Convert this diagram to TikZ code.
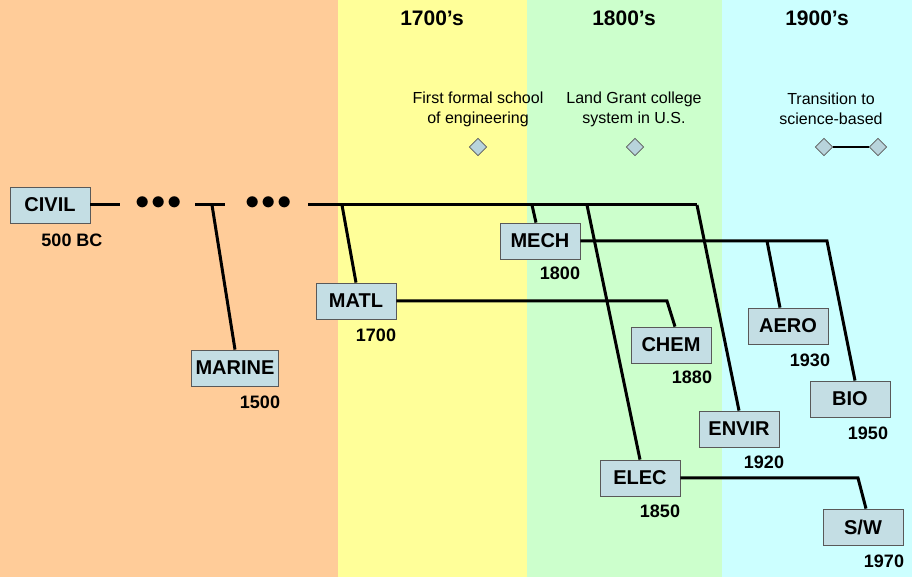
\documentclass[tikz,border=0pt]{standalone}
\usepackage{fontspec}
\setmainfont{Liberation Sans}
\usetikzlibrary{shapes.geometric}
\definecolor{bgorange}{HTML}{FFCC99}
\definecolor{bgyellow}{HTML}{FFFF99}
\definecolor{bggreen}{HTML}{CCFFCC}
\definecolor{bgcyan}{HTML}{CCFFFF}
\definecolor{boxfill}{HTML}{C4DEE4}
\definecolor{marker}{HTML}{B8D4DC}
\tikzset{
  field/.style={draw=gray!70!black,fill=boxfill,minimum width=40pt,minimum height=18pt,
    inner sep=2pt,font=\bfseries\fontsize{10}{12}\selectfont},
  year/.style={font=\bfseries\fontsize{9}{11}\selectfont},
  era/.style={font=\bfseries\fontsize{10.5}{12}\selectfont},
  note/.style={font=\fontsize{8}{10}\selectfont,align=center},
  milestone/.style={diamond,draw=gray!70!black,fill=marker,inner sep=2.2pt},
  link/.style={line width=1.5pt},
  dots/.style={font=\bfseries\fontsize{14}{14}\selectfont}
}
\begin{document}
\begin{tikzpicture}[x=0.5pt,y=-0.5pt]
  \useasboundingbox (0,0) rectangle (912,577);
  % eras
  \fill[bgorange] (0,0) rectangle (338,577);
  \fill[bgyellow] (338,0) rectangle (527,577);
  \fill[bggreen] (527,0) rectangle (722,577);
  \fill[bgcyan] (722,0) rectangle (912,577);
  \node[era] at (432,18) {1700's};
  \node[era] at (624,18) {1800's};
  \node[era] at (817,18) {1900's};

  % milestones
  \node[note] at (478,109) {First formal school\\of engineering};
  \node[milestone] (school) at (478,147) {};
  \node[note] at (634,109) {Land Grant college\\system in U.S.};
  \node[milestone] (grant) at (635,147) {};
  \node[note] at (831,109) {Transition to\\science-based};
  \node[milestone] (sciA) at (824,147) {};
  \node[milestone] (sciB) at (878,147) {};
  \draw[line width=1pt] (sciA) -- (sciB);

  % fields
  \node[field] (civil) at (50,205) {CIVIL};
  \node[field] (marine) at (235,368) {MARINE};
  \node[field] (matl) at (356,301) {MATL};
  \node[field] (mech) at (540,241) {MECH};
  \node[field] (chem) at (671,345) {CHEM};
  \node[field] (aero) at (788,326) {AERO};
  \node[field] (bio) at (850,399) {BIO};
  \node[field] (envir) at (739,429) {ENVIR};
  \node[field] (elec) at (640,478) {ELEC};
  \node[field] (sw) at (863,527) {S/W};

  % years
  \node[year] at (72,240) {500 BC};
  \node[year] at (260,402) {1500};
  \node[year] at (376,335) {1700};
  \node[year] at (560,273) {1800};
  \node[year] at (692,377) {1880};
  \node[year] at (810,360) {1930};
  \node[year] at (868,433) {1950};
  \node[year] at (764,462) {1920};
  \node[year] at (660,511) {1850};
  \node[year] at (884,561) {1970};

  % trunk
  \coordinate (t1) at (120,205);
  \coordinate (t2) at (195,205);
  \coordinate (t3) at (225,205);
  \coordinate (t4) at (308,205);
  \coordinate (t5) at (697,205);
  \node[dots] at (159,203) {$\bullet\!\bullet\!\bullet$};
  \node[dots] at (269,203) {$\bullet\!\bullet\!\bullet$};
  \draw[link] (civil) -- (t1);
  \draw[link] (t2) -- (t3);
  \draw[link] (t4) -- (t5);

  % branches
  \draw[link] (212,205) -- (marine.north);
  \draw[link] (342,205) -- (matl.north);
  \draw[link] (532,205) -- (mech.north -| 536,0);
  \draw[link] (t5) -- (envir.north);
  \draw[link] (587,205) -- (elec.north);
  \draw[link] (matl.east) -- (667,301) -- (chem.north -| 675,0);
  \draw[link] (mech.east) -- (827,241) -- (bio.north -| 855,0);
  \draw[link] (767,241) -- (aero.north -| 780,0);
  \draw[link] (elec.east) -- (858,478) -- (sw.north -| 866,0);
\end{tikzpicture}
\end{document}
